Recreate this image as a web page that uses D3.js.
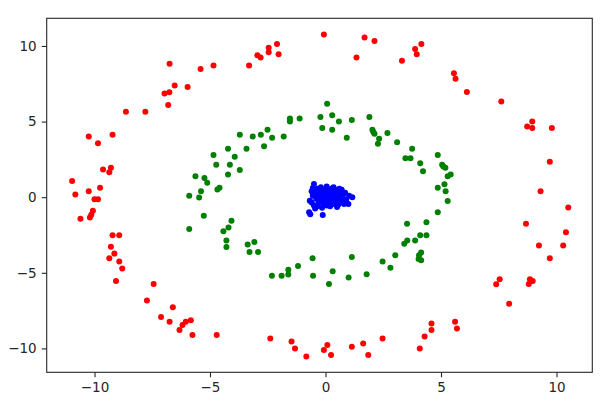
<!DOCTYPE html>
<html>
<head>
<meta charset="utf-8">
<script src="https://cdn.jsdelivr.net/npm/d3@7"></script>
<style>
  body { margin: 0; background: #fff; }
  svg { display: block; }
  .tick text { font-family: "DejaVu Sans", sans-serif; font-size: 13.5px; fill: #262626; }
</style>
</head>
<body>
<svg width="614" height="417"></svg>
<script>
// outer ring (red)
const redPoints = [
  [-10.25, 4.02], [-9.22, 4.13], [-8.64, 5.65], [-7.80, 5.65], [-6.97, 6.85], [-6.76, 6.94],
  [-6.81, 6.09], [-6.75, 8.82], [-6.53, 7.39], [-5.97, 7.28], [-5.41, 8.48], [-4.85, 8.71],
  [-3.31, 8.71], [-2.95, 9.38], [-2.81, 9.24], [-2.46, 9.89], [-2.46, 9.58], [-2.10, 10.13],
  [-2.03, 9.46], [-0.07, 10.76], [1.34, 9.24], [1.69, 10.56], [2.12, 10.33], [3.31, 9.02],
  [3.88, 9.80], [3.95, 9.46], [4.15, 10.13], [5.56, 8.19], [5.63, 7.83], [6.12, 6.96],
  [7.61, 6.32], [8.73, 4.67], [8.95, 5.00], [8.95, 4.58], [9.80, 4.58],
  [-9.85, 3.57], [-9.36, 1.65], [-9.63, 1.83], [-9.29, 1.94], [-10.97, 1.07], [-10.83, 0.18],
  [-10.25, 0.40], [-9.76, 0.62], [-10.00, -0.13], [-9.85, -0.13], [-10.07, -0.89], [-10.14, -1.16],
  [-10.20, -1.34], [-10.61, -1.43], [-9.22, -2.52], [-8.93, -2.52], [-9.29, -3.28], [-9.14, -3.73],
  [-9.36, -4.04], [-8.93, -4.26], [-8.80, -4.71],
  [9.71, 2.34], [9.31, 0.40], [10.51, -0.69], [8.68, -1.76], [10.41, -2.32], [9.24, -3.19],
  [10.29, -3.19], [9.71, -4.04],
  [-9.07, -5.54], [-7.44, -5.74], [-7.73, -6.83], [-6.61, -7.28], [-7.12, -7.92], [-6.75, -8.24],
  [-5.83, -8.13], [-6.05, -8.24], [-6.19, -8.46], [-6.32, -8.79], [-5.76, -9.11], [-4.71, -9.11],
  [-2.39, -9.35], [-1.47, -9.55], [-1.32, -10.00], [-0.83, -10.54], [-0.07, -10.11], [0.08, -9.78],
  [0.24, -10.43], [1.14, -9.89], [1.63, -9.67], [1.85, -10.43], [2.47, -9.35], [4.08, -10.00],
  [4.29, -9.22], [4.59, -8.79], [4.59, -8.35], [5.61, -8.24], [5.69, -8.68], [7.39, -5.76],
  [7.54, -5.42], [8.85, -5.42], [8.97, -5.54], [8.80, -5.74], [7.95, -7.05]
];

// middle ring (green)
const greenPoints = [
  [0.07, 6.18], [-0.22, 5.31], [0.29, 5.42], [0.58, 5.00], [1.14, 5.11], [1.90, 5.31],
  [-1.54, 5.20], [-1.54, 5.00], [-1.12, 5.20], [-0.14, 4.58], [0.29, 4.46], [2.03, 4.46],
  [2.07, 4.31], [2.12, 4.20], [2.68, 4.24], [0.92, 3.93], [-3.71, 4.13], [-3.15, 4.02],
  [-2.80, 4.13], [-2.51, 4.46], [-2.31, 3.93], [-1.81, 4.02], [2.32, 3.86], [3.10, 3.64],
  [2.27, 3.53],
  [-4.85, 2.79], [-4.22, 3.21], [-3.93, 2.68], [-3.42, 3.21], [-2.66, 3.37], [-4.73, 2.14],
  [-4.14, 2.14], [-3.71, 1.79], [-4.22, 1.50], [-5.63, 1.38], [-5.24, 1.27], [-5.12, 0.96],
  [-4.59, 0.62], [-4.68, 0.51], [-5.39, 0.40], [-5.90, 0.09], [-5.47, -0.02], [-5.27, -1.23],
  [-5.90, -2.10], [-4.07, -1.56], [-4.20, -2.01], [-4.42, -2.25], [-4.29, -2.86], [-4.29, -3.30],
  [-3.37, -3.13], [-3.08, -2.97], [-3.29, -3.62], [-2.92, -3.62], [-0.56, -4.04], [1.14, -3.95],
  [2.47, -4.26], [3.02, -3.84], [4.05, -3.84], [4.14, -3.66], [4.03, -4.08], [4.14, -4.17],
  [3.53, -1.76], [4.37, -1.65], [4.86, -1.00], [3.41, -3.08], [3.54, -2.86], [3.88, -2.86],
  [4.10, -2.52], [4.37, -2.52], [5.29, -0.25], [5.20, 0.40], [4.86, 0.62], [5.15, 0.85],
  [5.29, 1.38], [5.42, 1.50], [4.22, 1.72], [5.05, 2.14], [5.10, 2.03], [5.19, 1.94],
  [4.10, 2.25], [3.46, 2.57], [3.68, 2.57], [3.75, 3.21], [4.86, 2.79],
  [-2.32, -5.20], [-1.90, -5.20], [-1.61, -5.11], [-1.61, -4.80], [-1.19, -4.55], [-0.54, -5.20],
  [0.31, -4.89], [0.15, -5.74], [1.00, -5.31], [1.78, -5.09], [2.81, -4.67]
];

// centre cluster (blue)
const bluePoints = [
  [-0.50, 0.87], [-0.68, -0.23], [-0.71, -1.00], [-0.66, -1.12], [-0.12, -1.18], [1.02, 0.10],
  [1.16, -0.01], [0.99, -0.45],
  [-0.55, 0.10], [-0.45, 0.35], [-0.40, -0.10], [-0.35, 0.55], [-0.30, 0.20], [-0.30, -0.35],
  [-0.25, 0.45], [-0.20, -0.05], [-0.20, 0.65], [-0.15, 0.30], [-0.10, -0.40], [-0.10, 0.10],
  [-0.05, 0.50], [0.00, -0.20], [0.00, 0.25], [0.05, 0.70], [0.05, -0.55], [0.10, 0.05],
  [0.10, 0.40], [0.15, -0.30], [0.20, 0.20], [0.20, -0.60], [0.25, 0.55], [0.30, -0.10],
  [0.30, 0.30], [0.35, -0.45], [0.40, 0.10], [0.40, 0.50], [0.45, -0.25], [0.50, 0.25],
  [0.55, -0.50], [0.60, 0.05], [0.65, 0.35], [0.70, -0.20], [0.75, 0.15], [0.80, -0.45],
  [-0.60, -0.35], [-0.50, -0.55], [-0.35, -0.60], [-0.15, -0.70], [0.00, 0.00], [-0.40, 0.20],
  [0.25, 0.00], [0.55, -0.10], [-0.25, -0.20], [0.15, -0.10], [-0.05, -0.30], [0.35, 0.65],
  [0.60, 0.55], [-0.60, 0.40], [0.85, 0.30], [0.90, -0.15], [-0.45, -0.75], [0.50, -0.65],
  [-0.55, 0.60], [0.70, 0.50]
];

const xTicks = [-10, -5, 0, 5, 10];
const yTicks = [-10, -5, 0, 5, 10];

const svg = d3.select('svg');
const margin = { top: 18.3, right: 21.7, bottom: 44.7, left: 46.7 };
const width = +svg.attr('width') - margin.left - margin.right;
const height = +svg.attr('height') - margin.top - margin.bottom;

const x = d3.scaleLinear().domain([-12.07, 11.55]).range([0, width]);
const y = d3.scaleLinear().domain([-11.58, 11.83]).range([height, 0]);

const g = svg.append('g')
  .attr('transform', `translate(${margin.left},${margin.top})`);

const series = [
  { pts: redPoints, color: '#ff0000' },
  { pts: greenPoints, color: '#008000' },
  { pts: bluePoints, color: '#0000ff' }
];

series.forEach((s) => {
  g.append('g')
    .selectAll('circle')
    .data(s.pts)
    .enter()
    .append('circle')
      .attr('cx', d => x(d[0]))
      .attr('cy', d => y(d[1]))
      .attr('r', 3)
      .attr('fill', s.color);
});

const minus = d => (d < 0 ? '\u2212' + Math.abs(d) : d);

const xAxis = g.append('g')
  .attr('transform', `translate(0,${height})`)
  .call(d3.axisBottom(x).tickValues(xTicks).tickSize(5).tickPadding(5).tickFormat(minus));

const yAxis = g.append('g')
  .call(d3.axisLeft(y).tickValues(yTicks).tickSize(5).tickPadding(5).tickFormat(minus));

[xAxis, yAxis].forEach((a) => {
  a.select('.domain').remove();
  a.selectAll('.tick line').attr('stroke', '#262626').attr('stroke-width', 1.1);
});

g.append('rect')
  .attr('x', 0)
  .attr('y', 0)
  .attr('width', width)
  .attr('height', height)
  .attr('fill', 'none')
  .attr('stroke', '#262626')
  .attr('stroke-width', 1.1);
</script>
</body>
</html>
